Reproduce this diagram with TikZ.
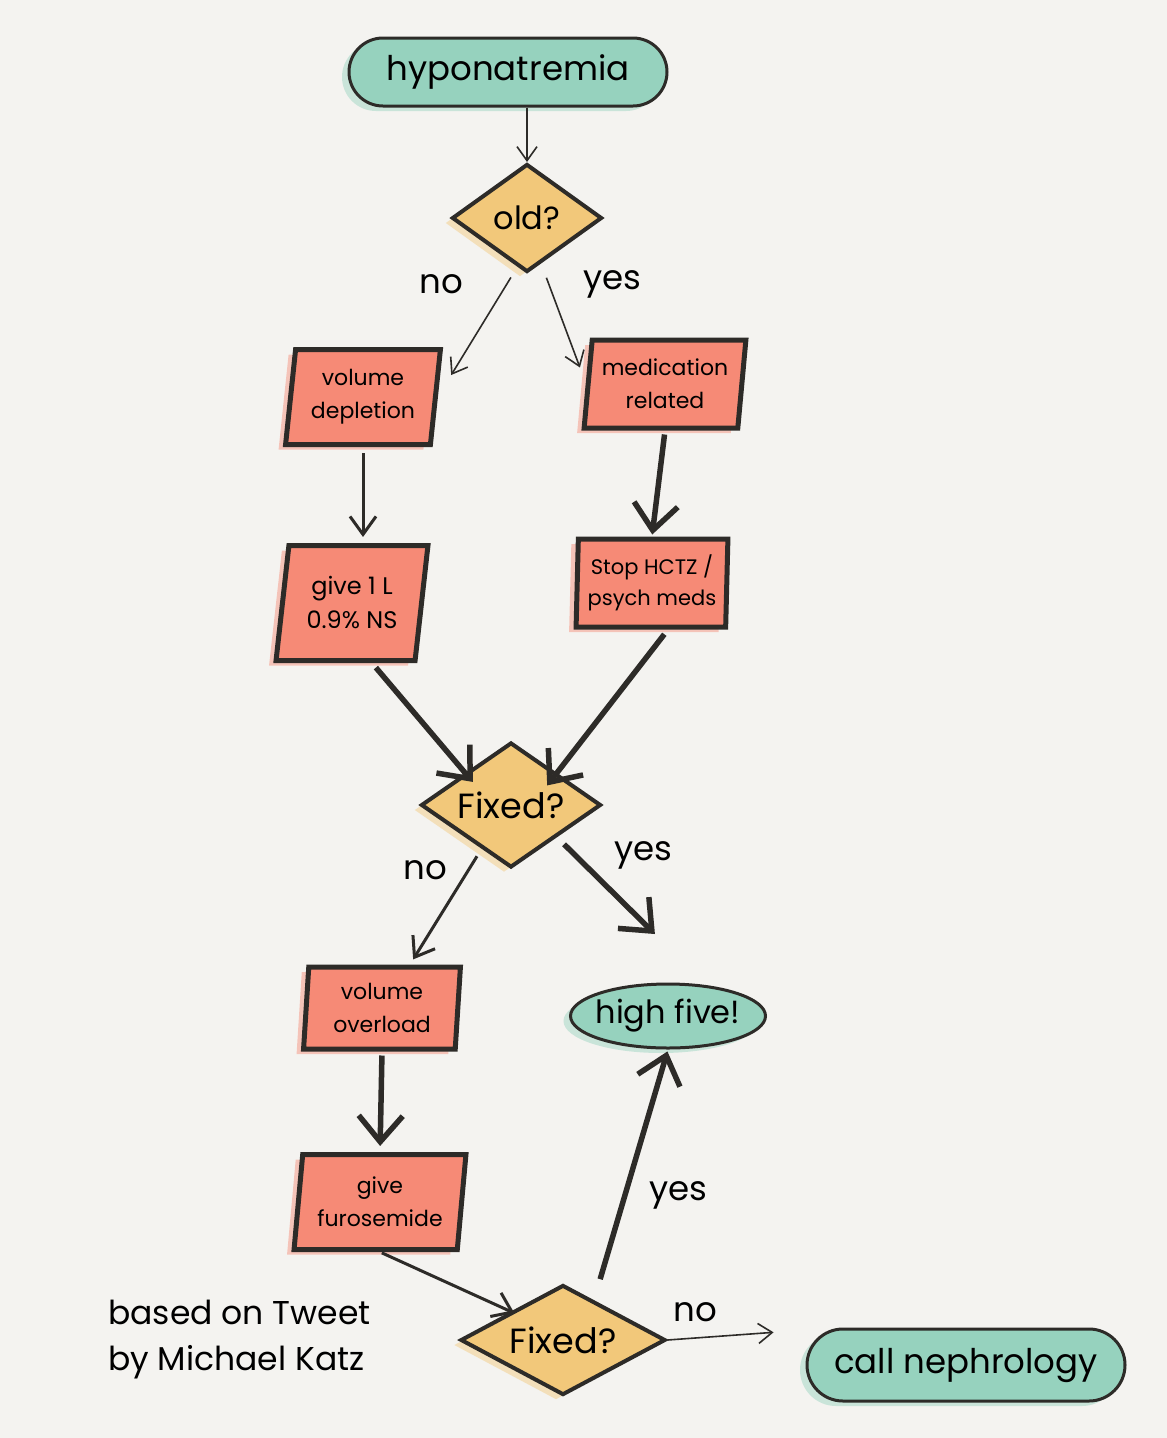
\documentclass[tikz,border=0pt]{standalone}
\usepackage{fontspec}
\setmainfont{Poppins}
\usetikzlibrary{shapes.geometric,shapes.misc,arrows.meta}
\definecolor{paper}{RGB}{244,243,240}
\definecolor{ink}{RGB}{45,43,40}
\definecolor{salmon}{RGB}{246,138,118}
\definecolor{mint}{RGB}{150,210,190}
\definecolor{mustard}{RGB}{242,200,122}
\tikzset{
  bleed/.style={preaction={fill=#1, opacity=0.45, transform canvas={shift={(-7pt,-5pt)}}}},
  terminal/.style={rounded rectangle, draw=ink, fill=mint, bleed=mint, line width=3pt, inner sep=0pt, font=\fontsize{34}{40}\selectfont},
  decision/.style={diamond, draw=ink, fill=mustard, bleed=mustard, line width=4pt, inner sep=0pt, aspect=1.5, font=\fontsize{35}{40}\selectfont},
  stepbox/.style={trapezium, trapezium stretches=true, trapezium left angle=82, trapezium right angle=98, draw=ink, fill=salmon, bleed=salmon, line width=5pt, inner sep=0pt, align=center, font=\fontsize{22}{33}\selectfont},
  answer/.style={font=\fontsize{34}{40}\selectfont, inner sep=0pt},
  thinarrow/.style={draw=ink, line width=1.6pt, -{Straight Barb[length=14pt,width=20pt]}},
  midarrow/.style={draw=ink, line width=3pt, -{Straight Barb[length=18pt,width=26pt]}},
  thickarrow/.style={draw=ink, line width=5.5pt, -{Straight Barb[length=26pt,width=44pt]}}
}
\begin{document}
\begin{tikzpicture}[x=1pt,y=1pt,yscale=-1]
\path[use as bounding box, fill=paper] (0,0) rectangle (1167,1438);

% Terminals
\node[terminal, minimum width=318, minimum height=68] (hypo) at (508,72) {hyponatremia};
\node[terminal, ellipse, minimum width=195, minimum height=64, inner sep=-6pt, font=\fontsize{32}{36}\selectfont] (high) at (668,1016) {high five!};
\node[terminal, minimum width=318, minimum height=72] (neph) at (966,1365) {call nephrology};

% Decisions
\node[decision, minimum width=150, minimum height=108, font=\fontsize{32}{36}\selectfont] (old) at (527,218) {old?};
\node[decision, minimum width=180, minimum height=125] (fixA) at (511,805) {Fixed?};
\node[decision, minimum width=205, minimum height=110] (fixB) at (563,1340) {Fixed?};

% Steps
\node[stepbox, minimum width=155, minimum height=95] (vold) at (363,397) {volume\\depletion};
\node[stepbox, minimum width=162, minimum height=88] (meds) at (665,384) {medication\\related};
\node[stepbox, minimum width=152, minimum height=115, trapezium left angle=80, trapezium right angle=100, font=\fontsize{24}{34}\selectfont] (ns) at (352,603) {give 1 L\\0.9\% NS};
\node[stepbox, minimum width=152, minimum height=88, trapezium left angle=88, trapezium right angle=92, font=\fontsize{21}{31}\selectfont] (stop) at (652,583) {Stop HCTZ /\\psych meds};
\node[stepbox, minimum width=157, minimum height=82, trapezium left angle=86, trapezium right angle=94] (volo) at (382,1008) {volume\\overload};
\node[stepbox, minimum width=172, minimum height=95, trapezium left angle=82, trapezium right angle=98] (furo) at (380,1202) {give\\furosemide};

% Text Node
\node[answer] (noA) at (441,284) {no};
\node[answer] (yesA) at (612,284) {yes};
\node[answer] (noB) at (425,870) {no};
\node[answer] (yesB) at (643,855) {yes};
\node[answer] (yesC) at (678,1195) {yes};
\node[answer] (noC) at (695,1312) {no};
\node[answer, anchor=north west, align=left, font=\fontsize{33}{46}\selectfont] (credit) at (108,1300) {based on Tweet\\by Michael Katz};

% Connectors
\draw[thinarrow] (hypo.south -| old.north) -- (old.north);
\draw[thinarrow, shorten <=4] ([xshift=-14]old.south) -- ([xshift=8,yshift=28]vold.top right corner);
\draw[thinarrow, shorten <=4] ([xshift=18]old.south) -- ([xshift=-10,yshift=30]meds.top left corner);
\draw[midarrow, shorten <=6, shorten >=6] (vold.south) -- (vold.south |- ns.north);
\draw[thickarrow, shorten <=4, shorten >=2] (meds.south) -- (stop.north);
\draw[thickarrow, shorten <=6, shorten >=-12] ([xshift=20]ns.south) -- (fixA.north west);
\draw[thickarrow, shorten <=6, shorten >=-16] ([xshift=16]stop.south) -- (fixA.north east);
\draw[midarrow, shorten >=6] ([xshift=12,yshift=19]fixA.south west) -- ([xshift=28]volo.north);
\draw[thickarrow, shorten <=10, shorten >=69] (fixA.south east) -- ([xshift=36]high.north);
\draw[thickarrow, shorten <=4, shorten >=6] (volo.south) -- (furo.north);
\draw[midarrow, shorten <=2, shorten >=-4] (furo.south) -- (fixB.north west);
\draw[thickarrow, shorten <=4, shorten >=2] ([xshift=36]fixB.north) -- (high.south);
\draw[thinarrow, shorten >=32] (fixB.east) -- ([yshift=-35]neph.west);
\end{tikzpicture}
\end{document}
